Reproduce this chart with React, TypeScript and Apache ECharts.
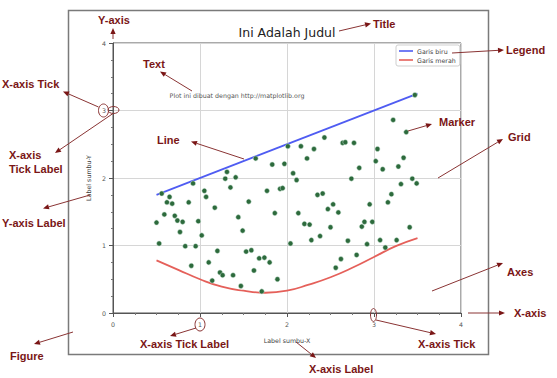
import React, { useEffect, useRef } from "react";
import * as echarts from "echarts";

// ---- data ----
const titleText = "Ini Adalah Judul";
const noteText = "Plot ini dibuat dengan http://matplotlib.org";
const xAxisName = "Label sumbu-X";
const yAxisName = "Label sumbu-Y";
const legendNames = ["Garis biru", "Garis merah"];
const xTickMin = 0;
const xTickMax = 4;
const yTickMin = 0;
const yTickMax = 4;

const blueX = [0.5, 3.5];
const blueY = [1.75, 3.25];

const redX = [0.5, 0.75, 1.0, 1.25, 1.5, 1.75, 2.0, 2.25, 2.5, 2.75, 3.0, 3.25, 3.5];
const redY = [0.78, 0.64, 0.5, 0.39, 0.33, 0.3, 0.33, 0.42, 0.53, 0.67, 0.83, 0.99, 1.11];

const scatterX = [
  1.64, 1.83, 1.97, 1.31, 1.29, 1.41, 0.92, 1.35, 1.05, 1.77, 1.92, 1.95, 0.56,
  3.47, 3.22, 3.37, 2.43, 2.01, 2.16, 2.31, 2.64, 2.67, 2.77, 3.04, 2.23, 3.02,
  3.34, 2.83, 3.1, 3.28, 2.07, 2.11, 2.74, 3.44, 3.49, 3.31, 2.35, 2.41, 3.2,
  0.65, 0.62, 0.68, 0.87, 1.07, 1.17, 1.56, 0.59, 0.71, 0.74, 0.8, 0.5, 0.98,
  1.44, 1.86, 0.77, 1.49, 1.02, 0.53, 0.83, 0.95, 1.2, 1.53, 1.59, 0.9, 1.1,
  1.68, 1.74, 1.8, 1.62, 1.23, 1.26, 1.38, 1.89, 1.14, 1.47, 1.71,
  3.16, 2.95, 2.53, 2.47, 2.59, 2.13, 2.2, 2.26, 2.5, 2.86, 2.89, 2.98, 3.41,
  2.28, 2.38, 2.7, 2.04, 2.92, 3.07, 3.26, 3.13, 2.8, 2.62, 2.56,
];
const scatterY = [
  2.29, 2.2, 2.21, 2.09, 1.99, 2.01, 1.92, 1.86, 1.81, 1.81, 1.84, 1.85, 1.77,
  3.23, 2.86, 2.68, 2.6, 2.47, 2.47, 2.43, 2.52, 2.53, 2.52, 2.43, 2.29, 2.25,
  2.3, 2.15, 2.13, 2.17, 2.07, 1.97, 1.99, 1.99, 1.92, 1.91, 1.75, 1.77, 1.76,
  1.72, 1.64, 1.62, 1.64, 1.72, 1.56, 1.65, 1.46, 1.44, 1.37, 1.35, 1.34, 1.36,
  1.42, 1.48, 1.2, 1.22, 1.15, 1.03, 0.99, 0.99, 0.92, 0.91, 0.93, 0.7, 0.75,
  0.81, 0.82, 0.75, 0.63, 0.6, 0.56, 0.56, 0.5, 0.48, 0.4, 0.32,
  1.64, 1.61, 1.61, 1.54, 1.49, 1.48, 1.32, 1.31, 1.27, 1.28, 1.35, 1.35, 1.27,
  1.08, 1.14, 1.07, 1.03, 1.02, 1.08, 1.08, 0.97, 0.86, 0.8, 0.67,
];

// annotation labels
const annoLabels = [
  "Y-axis", "Title", "Legend", "Text", "X-axis Tick", "X-axis\nTick Label",
  "Y-axis Label", "Line", "Marker", "Grid", "Axes", "X-axis", "Figure",
  "X-axis Tick Label", "X-axis Label", "X-axis Tick",
];

// ---- styling / layout ----
const TXT = "#7a1616";
const ARC = "#8a3434";
const smallFont = '"DejaVu Sans", sans-serif';
const boldFont = 'bold 11px "Liberation Sans", Arial, sans-serif';

const labelPos: [number, number, string?][] = [
  [98, 20], [373, 23.5], [506, 50], [143, 64], [2, 84], [9, 148, "top"],
  [2, 223], [157, 140], [439, 122], [508, 137], [507, 272], [514, 313], [10, 356],
  [140, 344], [309, 369], [418, 344],
];

const arrows: [number, number, number, number][] = [
  [113, 39, 113, 28],
  [339, 31, 371, 23.5],
  [452, 53, 504, 50],
  [192, 91, 160, 71.5],
  [98.5, 107, 63, 91.5],
  [113, 113.5, 55, 153],
  [90, 195, 43, 208.5],
  [244, 159, 191, 141.5],
  [408, 131, 432, 124],
  [438, 178, 503, 139],
  [432, 291, 503, 263],
  [468, 313, 505, 313],
  [73, 332, 34, 344],
  [196, 328, 170, 336],
  [296, 342, 316, 358],
  [376, 320, 436, 334],
];

const ellipses: [number, number, number, number][] = [
  [103.5, 110.5, 5, 6.5],
  [113.5, 110, 5.5, 3.5],
  [200, 324.5, 5, 6.5],
  [373.5, 315, 3, 6.5],
];

function arrowEls(x1: number, y1: number, x2: number, y2: number) {
  const dx = x2 - x1, dy = y2 - y1;
  const L = Math.hypot(dx, dy);
  const ux = dx / L, uy = dy / L;
  const hl = 6, hw = 2.6;
  const bx = x2 - ux * hl, by = y2 - uy * hl;
  return [
    { type: "line", silent: true, z: 20, shape: { x1, y1, x2: bx, y2: by }, style: { stroke: ARC, lineWidth: 1 } },
    {
      type: "polygon", silent: true, z: 20,
      shape: { points: [[x2, y2], [bx - uy * hw, by + ux * hw], [bx + uy * hw, by - ux * hw]] },
      style: { fill: TXT },
    },
  ];
}

export default function App() {
  const ref = useRef<HTMLDivElement>(null);
  useEffect(() => {
    if (!ref.current) return;
    const chart = echarts.init(ref.current, null, { renderer: "svg" });

    const graphics: any[] = [
      {
        type: "rect", silent: true, z: 0,
        shape: { x: 68.5, y: 10.5, width: 420, height: 344 },
        style: { fill: "none", stroke: "#7a7a7a", lineWidth: 1.5 },
      },
      {
        type: "text", silent: true, z: 10, x: 287, y: 32,
        style: { text: titleText, fill: "#222", font: '12.5px "DejaVu Sans", sans-serif', textAlign: "center", textVerticalAlign: "middle" },
      },
      {
        type: "text", silent: true, z: 10, x: 237, y: 95,
        style: { text: noteText, fill: "#555", font: '6.3px "DejaVu Sans", sans-serif', textAlign: "center", textVerticalAlign: "middle" },
      },
    ];
    annoLabels.forEach((t, i) => {
      const [x, y, va] = labelPos[i];
      graphics.push({
        type: "text", silent: true, z: 20, x, y,
        style: { text: t, fill: TXT, font: boldFont, textAlign: "left", textVerticalAlign: va || "middle", lineHeight: 14 },
      });
    });
    arrows.forEach((a) => graphics.push(...arrowEls(a[0], a[1], a[2], a[3])));
    ellipses.forEach((e) =>
      graphics.push({
        type: "ellipse", silent: true, z: 20,
        shape: { cx: e[0], cy: e[1], rx: e[2], ry: e[3] },
        style: { fill: "none", stroke: ARC, lineWidth: 1 },
      })
    );

    const axisCommon = {
      type: "value",
      interval: 1,
      axisLine: { show: true, lineStyle: { color: "#555", width: 1 } },
      axisTick: { show: true, length: 4, lineStyle: { color: "#555" } },
      minorTick: { show: true, splitNumber: 4, length: 2, lineStyle: { color: "#777" } },
      splitLine: { show: true, lineStyle: { color: "#d6d6d6", width: 1 } },
      nameLocation: "middle",
      nameTextStyle: { fontSize: 6.3, color: "#444", fontFamily: smallFont },
    };

    chart.setOption({
      animation: false,
      backgroundColor: "#fff",
      grid: {
        left: 113, top: 43, right: 96, bottom: 65,
        show: true, borderColor: "#555", borderWidth: 1, backgroundColor: "transparent",
      },
      legend: {
        data: legendNames,
        orient: "vertical",
        left: 396, top: 45,
        icon: "rect",
        itemWidth: 14, itemHeight: 1.6, itemGap: 3,
        padding: [3, 4, 3, 3],
        backgroundColor: "#fff",
        borderColor: "#cfcfcf", borderWidth: 1, borderRadius: 2,
        textStyle: { fontSize: 6.3, color: "#444", fontFamily: smallFont, padding: [0, 0, 0, -1] },
      },
      xAxis: {
        ...axisCommon,
        min: xTickMin, max: xTickMax,
        name: xAxisName, nameGap: 24,
        axisLabel: { fontSize: 6.3, color: "#555", margin: 8, fontFamily: smallFont },
      },
      yAxis: {
        ...axisCommon,
        min: yTickMin, max: yTickMax,
        name: yAxisName, nameGap: 19,
        axisLabel: { fontSize: 6.3, color: "#555", margin: 7, fontFamily: smallFont },
      },
      series: [
        {
          name: legendNames[0], type: "line", showSymbol: false, symbol: "none",
          data: blueX.map((x, i) => [x, blueY[i]]),
          lineStyle: { color: "#4f5cf2", width: 1.8 }, itemStyle: { color: "#4f5cf2" }, z: 3,
        },
        {
          name: legendNames[1], type: "line", showSymbol: false, symbol: "none", smooth: true,
          data: redX.map((x, i) => [x, redY[i]]),
          lineStyle: { color: "#e5605a", width: 1.8 }, itemStyle: { color: "#e5605a" }, z: 3,
        },
        {
          name: "points", type: "scatter", symbolSize: 5,
          data: scatterX.map((x, i) => [x, scatterY[i]]),
          itemStyle: { color: "#2d6a3c", borderColor: "rgba(200,225,210,0.9)", borderWidth: 0.6, opacity: 1 },
          z: 4,
        },
      ],
      graphic: graphics,
    });
    return () => chart.dispose();
  }, []);
  return <div ref={ref} style={{ position: "absolute", left: 0, top: 0, width: 557, height: 378 }} />;
}
